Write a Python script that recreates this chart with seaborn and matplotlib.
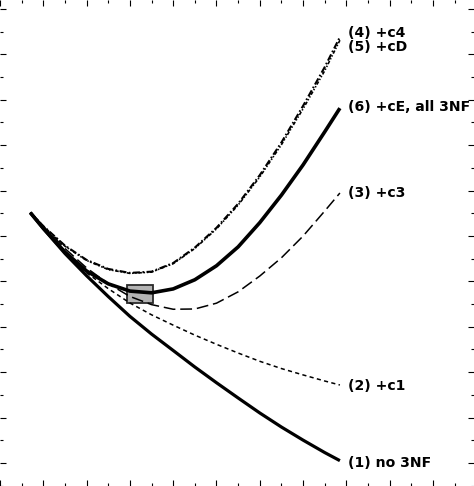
import matplotlib
matplotlib.use("Agg")
import matplotlib.pyplot as plt
from matplotlib.patches import Rectangle
from matplotlib.ticker import MultipleLocator
import seaborn as sns
import pandas as pd

sns.set_theme(style="white")
plt.rcParams["font.family"] = ["DejaVu Sans"]
plt.rcParams["lines.scale_dashes"] = False

# Fermi momentum grid (fm^-1) and energy per particle (MeV)
kf = [1.07, 1.10, 1.15, 1.20, 1.25, 1.30, 1.35, 1.40, 1.45, 1.50,
      1.55, 1.60, 1.65, 1.70, 1.75, 1.785]

e_no3nf = [-7.43, -9.18, -11.93, -14.38, -16.67, -18.85, -20.80, -22.61,
           -24.43, -26.16, -27.84, -29.49, -31.04, -32.48, -33.85, -34.74]
e_c1 = [-7.42, -9.08, -11.75, -14.05, -15.80, -17.38, -18.68, -19.82,
        -20.92, -21.93, -22.89, -23.80, -24.60, -25.30, -25.97, -26.41]
e_c3 = [-7.41, -8.93, -11.38, -13.52, -15.25, -16.66, -17.56, -18.07,
        -18.04, -17.40, -16.15, -14.41, -12.40, -10.01, -7.25, -5.27]
e_c4 = [-7.41, -8.91, -11.06, -12.64, -13.63, -14.07, -13.93, -12.98,
        -11.28, -9.10, -6.45, -3.30, 0.30, 4.33, 8.60, 11.90]
e_cD = [-7.41, -8.94, -11.12, -12.70, -13.70, -14.12, -13.98, -13.05,
        -11.38, -9.22, -6.60, -3.50, 0.05, 4.00, 8.20, 11.55]
e_cE = [-7.43, -9.16, -11.77, -13.86, -15.27, -16.07, -16.26, -15.83,
        -14.82, -13.28, -11.20, -8.53, -5.50, -2.17, 1.47, 4.07]

labels = ["(1) no 3NF", "(2) +c1", "(3) +c3", "(4) +c4", "(5) +cD",
          "(6) +cE, all 3NF"]
label_y = [-35.0, -26.5, -5.3, 12.4, 10.8, 4.2]

# empirical saturation region
sat_kf = [1.293, 1.353]
sat_e = [-17.38, -15.40]

series = [e_no3nf, e_c1, e_c3, e_c4, e_cD, e_cE]
frames = []
for lab, ys in zip(labels, series):
    frames.append(pd.DataFrame({"kF": kf, "E": ys, "curve": lab}))
df = pd.concat(frames, ignore_index=True)

styles = {
    "(1) no 3NF": dict(lw=2.3, ls="-"),
    "(2) +c1": dict(lw=1.1, ls=(0, (3.0, 2.4))),
    "(3) +c3": dict(lw=1.1, ls=(0, (8.5, 3.5))),
    "(4) +c4": dict(lw=1.5, ls=(0, (5.0, 1.8, 1.2, 1.8))),
    "(5) +cD": dict(lw=1.2, ls=(0, (2.5, 1.3, 1.0, 1.3, 1.0, 1.3))),
    "(6) +cE, all 3NF": dict(lw=2.6, ls="-"),
}

fig = plt.figure(figsize=(4.74, 4.86), dpi=100)
ax = fig.add_axes([0, 0, 1, 1])

ax.add_patch(Rectangle((sat_kf[0], sat_e[0]), sat_kf[1] - sat_kf[0],
                       sat_e[1] - sat_e[0], facecolor="#b3b3b3",
                       edgecolor="#2a2a2a", lw=1.3, zorder=2))

for lab in labels:
    sub = df[df["curve"] == lab]
    st = styles[lab]
    sns.lineplot(data=sub, x="kF", y="E", ax=ax, color="black",
                 linewidth=st["lw"], linestyle=st["ls"], zorder=3,
                 solid_capstyle="butt", solid_joinstyle="round")

for lab, yy in zip(labels, label_y):
    ax.text(1.804, yy, lab, ha="left", va="center", fontsize=10.1,
            fontweight="bold", color="black")

ax.set_xlim(1.0, 2.0947)
ax.set_ylim(-37.53, 15.98)
ax.xaxis.set_major_locator(MultipleLocator(0.1))
ax.xaxis.set_minor_locator(MultipleLocator(0.05))
ax.yaxis.set_major_locator(MultipleLocator(5))
ax.yaxis.set_minor_locator(MultipleLocator(2.5))
ax.tick_params(which="both", direction="in", top=True, right=True,
               bottom=True, left=True, labelbottom=False, labelleft=False,
               color="black", width=0.8)
ax.tick_params(which="major", length=4.3)
ax.tick_params(which="minor", length=2.2)
for sp in ax.spines.values():
    sp.set_visible(False)
ax.set_xlabel("")
ax.set_ylabel("")
ax.grid(False)

fig.savefig("out.png", dpi=100)
